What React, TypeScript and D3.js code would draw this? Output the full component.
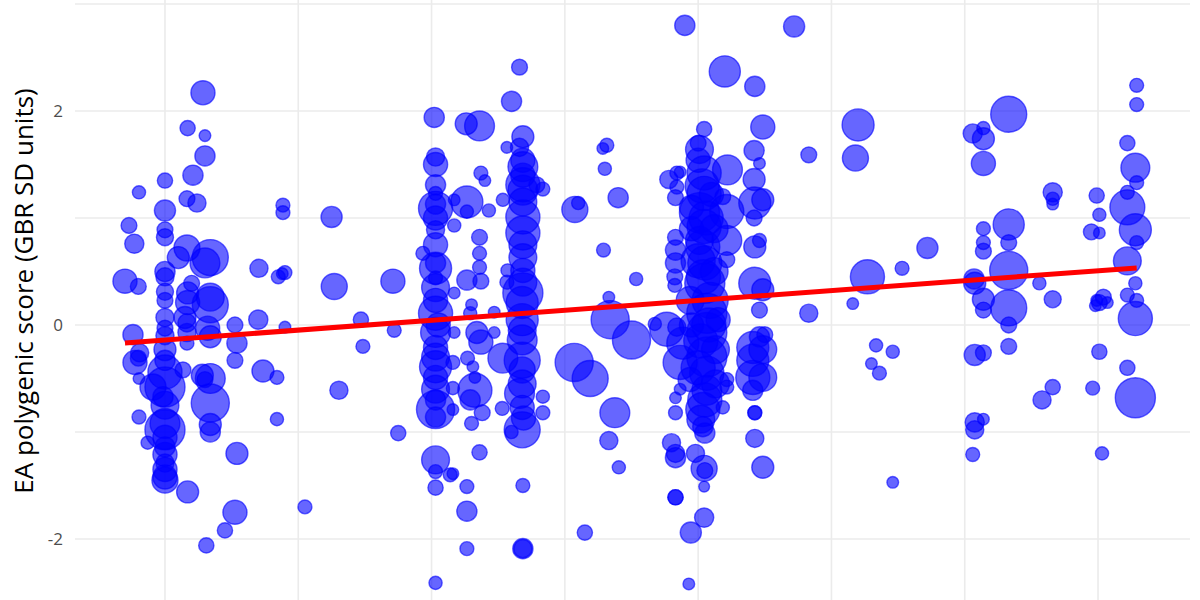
import * as d3 from 'd3'

// [x, score, n] — one array per cluster of samples
const groupLeft: [number, number, number][] = [
  [0.285, 2.17, 30], [0.17, 1.84, 12], [0.3, 1.77, 7], [0.3, 1.58, 21], [0.21, 1.4, 21],
  [0, 1.35, 12], [-0.195, 1.24, 9], [0.165, 1.18, 13], [0.24, 1.14, 17], [0, 1.07, 23],
  [0.885, 1.12, 10], [0.885, 1.05, 10], [-0.27, 0.93, 13], [-0.23, 0.76, 19], [0, 0.89, 13],
  [0, 0.82, 15], [0.165, 0.72, 35], [0.1, 0.63, 25], [0.34, 0.63, 67], [0.3, 0.58, 46],
  [0.705, 0.53, 17], [0.85, 0.45, 10], [0.9, 0.49, 10], [0.88, 0.48, 7], [0, 0.5, 21],
  [0, 0.45, 17], [-0.3, 0.41, 30], [-0.2, 0.36, 13], [0, 0.31, 15], [0.17, 0.3, 25],
  [0.2, 0.39, 13], [0.34, 0.26, 40], [0, 0.23, 13], [0.17, 0.21, 30], [0.34, 0.19, 67],
  [0, 0.07, 17], [0, -0.03, 13], [0.15, 0.07, 25], [0.165, 0.02, 17], [0.165, -0.17, 10],
  [0.165, -0.07, 17], [0.32, -0.03, 30], [0.34, -0.11, 25], [0.525, 0, 13], [0.7, 0.05, 19],
  [0.9, -0.02, 7], [0.54, -0.17, 21], [0.525, -0.33, 13], [-0.24, -0.09, 21], [-0.19, -0.26, 17],
  [-0.225, -0.35, 30], [-0.2, -0.31, 13], [0, -0.23, 25], [0, -0.33, 21], [0, -0.44, 60],
  [0, -0.58, 83], [-0.09, -0.58, 35], [-0.015, -0.67, 21], [0.135, -0.42, 13], [-0.195, -0.5, 7],
  [0.28, -0.47, 25], [0.34, -0.5, 46], [0.3, -0.51, 13], [0.34, -0.73, 75], [0.34, -0.93, 25],
  [0.34, -1.0, 21], [0.735, -0.43, 25], [0.84, -0.49, 10], [0.84, -0.88, 9], [-0.195, -0.86, 10],
  [0, -0.92, 46], [0, -0.98, 83], [-0.13, -1.1, 9], [0, -1.14, 21], [0, -1.21, 30],
  [0, -1.29, 17], [0, -1.42, 30], [0, -1.45, 35], [0.17, -1.56, 25], [0.54, -1.2, 25],
  [0.525, -1.75, 30], [0.45, -1.92, 12], [0.31, -2.06, 12], [1.05, -1.7, 10],
  [0, -0.75, 40], [0, -1.05, 30], [0, -1.35, 30], [0, -0.1, 17],
]

const groupMidLeft: [number, number, number][] = [
  [1.25, 1.01, 23], [1.27, 0.36, 35], [1.71, 0.41, 30], [1.47, 0.05, 12], [1.72, -0.05, 10],
  [1.485, -0.2, 10], [1.305, -0.61, 17], [1.75, -1.01, 12], [1.935, 0.67, 10],
]

const groupTwo: [number, number, number][] = [
  [2.02, 1.94, 21], [2.26, 1.88, 25], [2.36, 1.86, 46], [2.03, 1.57, 17], [2.03, 1.5, 30],
  [2.03, 1.31, 21], [2.03, 1.23, 10], [2.03, 1.09, 60], [2.03, 1.13, 21], [2.03, 0.89, 17],
  [2.17, 1.17, 7], [2.265, 1.15, 53], [2.265, 1.06, 9], [2.37, 1.42, 10], [2.4, 1.35, 7],
  [2.43, 1.07, 9], [2.535, 1.17, 9], [2.17, 0.93, 9], [2.36, 0.82, 13], [2.36, 0.67, 10],
  [2.36, 0.54, 10], [2.37, 0.41, 13], [2.265, 0.42, 21], [2.03, 0.53, 53], [2.03, 0.58, 21],
  [2.03, 0.44, 10], [2.17, 0.3, 7], [2.03, 0.23, 30], [2.03, 0.11, 60], [2.03, -0.07, 46],
  [2.03, -0.21, 30], [2.03, -0.39, 53], [2.03, -0.49, 30], [2.03, -0.79, 75], [2.03, -0.7, 21],
  [2.03, -0.86, 21], [2.17, -0.07, 7], [2.16, -0.35, 10], [2.16, -0.59, 9], [2.16, -0.79, 7],
  [2.3, 0.19, 7], [2.29, 0.11, 9], [2.34, -0.07, 25], [2.37, -0.16, 30], [2.47, 0.12, 7],
  [2.47, -0.07, 7], [2.27, -0.31, 10], [2.31, -0.39, 7], [2.325, -0.49, 7], [2.325, -0.61, 60],
  [2.29, -0.7, 21], [2.38, -0.82, 13], [2.3, -0.92, 10], [2.03, -1.26, 40], [2.03, -1.37, 10],
  [2.03, -1.52, 12], [2.14, -1.4, 10], [2.16, -1.39, 7], [2.36, -1.19, 12], [2.265, -1.51, 10],
  [2.265, -1.74, 21], [2.265, -2.09, 10], [2.03, -2.41, 9],
  [2.03, 1.0, 30], [2.03, 0.75, 30], [2.03, 0.35, 40], [2.03, -0.3, 40], [2.03, -0.6, 40],
  [2.05, 0.0, 30],
]

const groupThree: [number, number, number][] = [
  [2.66, 2.41, 13], [2.6, 2.09, 21], [2.685, 1.76, 25], [2.565, 1.66, 7], [2.66, 1.66, 17],
  [2.685, 1.54, 30], [2.685, 1.48, 46], [2.685, 1.31, 60], [2.685, 1.26, 46], [2.79, 1.31, 13],
  [2.835, 1.27, 10], [2.685, 1.01, 60], [2.685, 0.86, 60], [2.685, 0.63, 40], [2.685, 0.51, 30],
  [2.57, 0.51, 9], [2.685, 0.3, 83], [2.565, 0.4, 10], [2.68, 0.21, 53], [2.68, 0.05, 53],
  [2.68, -0.14, 46], [2.68, -0.33, 67], [2.68, -0.42, 35], [2.535, -0.31, 46], [2.53, -0.78, 10],
  [2.66, -0.64, 46], [2.68, -0.77, 30], [2.68, -0.98, 67], [2.6, -1.0, 9], [2.685, -1.5, 10],
  [2.685, -2.09, 21], [2.685, -2.09, 17], [2.835, -0.67, 9], [2.835, -0.82, 10],
  [2.685, 1.15, 40], [2.685, 0.75, 40], [2.685, 0.4, 40], [2.68, -0.05, 40], [2.68, -0.55, 40],
  [2.69, -0.87, 30], [2.685, 1.4, 30],
]

const groupMid: [number, number, number][] = [
  [3.075, 1.08, 35], [3.1, 1.14, 9], [3.285, 1.65, 7], [3.315, 1.68, 10], [3.3, 1.46, 9],
  [3.4, 1.19, 21], [3.29, 0.7, 10], [3.535, 0.43, 9], [3.33, 0.26, 7], [3.34, 0.05, 75],
  [3.5, -0.14, 75], [3.07, -0.35, 75], [3.19, -0.5, 67], [3.375, -0.82, 46], [3.33, -1.08, 17],
  [3.405, -1.33, 9], [3.15, -1.94, 12],
]

const groupFour: [number, number, number][] = [
  [3.9, 2.8, 21], [4.2, 2.37, 50], [4.425, 2.23, 21], [4.485, 1.85, 30], [4.045, 1.83, 12],
  [4.0, 1.7, 13], [4.42, 1.63, 21], [4.46, 1.51, 7], [3.78, 1.36, 17], [3.84, 1.42, 10],
  [3.865, 1.43, 7], [3.84, 1.29, 10], [3.83, 1.19, 13], [4.045, 1.42, 60], [4.045, 1.23, 60],
  [4.22, 1.45, 46], [4.01, 1.05, 83], [4.215, 1.06, 60], [4.045, 0.92, 60], [4.185, 1.2, 13],
  [4.42, 1.36, 25], [4.425, 1.14, 53], [4.485, 1.17, 25], [4.42, 1.0, 13], [3.83, 0.82, 13],
  [3.83, 0.7, 21], [3.83, 0.58, 21], [3.825, 0.45, 13], [3.825, 0.37, 10], [4.035, 0.73, 60],
  [4.215, 0.79, 46], [4.05, 0.58, 60], [4.05, 0.39, 83], [4.215, 0.61, 13], [4.425, 0.73, 25],
  [4.46, 0.79, 10], [4.425, 0.39, 53], [4.485, 0.33, 25], [3.765, -0.04, 60], [3.675, 0.01, 9],
  [3.84, -0.02, 17], [3.885, -0.17, 53], [3.865, -0.35, 60], [3.865, -0.6, 7], [3.83, -0.68, 7],
  [3.83, -0.82, 10], [4.065, 0.11, 83], [4.065, -0.07, 83], [4.065, -0.3, 83], [4.065, -0.45, 60],
  [4.065, -0.61, 46], [4.035, -0.79, 60], [4.035, -0.95, 21], [4.05, -1.01, 21], [4.215, -0.58, 10],
  [4.185, -0.77, 9], [4.215, -0.51, 10], [3.8, -1.1, 17], [3.83, -1.2, 17], [3.83, -1.24, 21],
  [3.98, -1.2, 17], [4.045, -1.34, 35], [4.05, -1.36, 13], [4.045, -1.51, 6], [3.83, -1.61, 12],
  [3.83, -1.61, 12], [4.045, -1.8, 19], [3.945, -1.94, 23], [3.93, -2.42, 7], [4.41, -0.21, 53],
  [4.41, -0.33, 53], [4.41, -0.49, 60], [4.41, -0.61, 21], [4.425, -0.82, 10], [4.425, -0.82, 10],
  [4.425, -1.06, 17], [4.485, -1.33, 25], [4.46, -0.11, 21], [4.5, -0.09, 13], [4.485, -0.23, 40],
  [4.485, -0.49, 40], [4.46, 0.14, 13], [4.01, 1.64, 40], [4.0, 1.54, 30], [4.09, 0.23, 67],
  [4.01, 0.79, 40], [4.1, 1.22, 30], [3.94, 0.23, 40], [4.13, -0.23, 40], [3.94, -0.51, 30],
  [4.15, 0.05, 30],
  [4.03, 1.3, 60], [4.06, 1.0, 60], [4.0, 0.6, 60], [4.04, 0.45, 60], [4.08, 0.0, 60],
  [4.02, -0.15, 60], [4.0, -0.4, 60], [4.05, -0.7, 60], [4.02, -0.88, 40], [3.95, 1.1, 30],
  [3.95, 0.9, 30], [3.95, 0.0, 30], [4.12, 0.5, 40], [4.12, 0.9, 40], [4.13, -0.55, 40],
]

const groupFive: [number, number, number][] = [
  [4.72, 2.79, 23], [4.83, 1.59, 13], [5.2, 1.87, 53], [5.18, 1.56, 35], [5.72, 0.72, 23],
  [5.53, 0.53, 10], [5.27, 0.45, 60], [5.16, 0.2, 7], [4.83, 0.11, 17], [5.335, -0.19, 9],
  [5.46, -0.25, 9], [5.3, -0.36, 7], [5.36, -0.45, 10], [5.46, -1.47, 7],
]

const groupSix: [number, number, number][] = [
  [6.33, 1.97, 67], [6.06, 1.79, 19], [6.14, 1.84, 9], [6.14, 1.74, 25], [6.14, 1.51, 30],
  [6.66, 1.24, 19], [6.66, 1.18, 9], [6.66, 1.13, 7], [6.33, 0.94, 50], [6.33, 0.77, 13],
  [6.33, 0.51, 75], [6.14, 0.9, 10], [6.14, 0.77, 10], [6.14, 0.69, 13], [6.07, 0.43, 21],
  [6.075, 0.39, 25], [6.14, 0.24, 25], [6.14, 0.14, 13], [6.33, 0.16, 67], [6.56, 0.39, 9],
  [6.66, 0.24, 15], [6.33, 0, 13], [6.33, -0.2, 13], [6.075, -0.28, 23], [6.14, -0.26, 13],
  [6.075, -0.91, 19], [6.075, -0.98, 17], [6.14, -0.88, 7], [6.06, -1.21, 10], [6.66, -0.58, 12],
  [6.58, -0.7, 17],
]

const groupRight: [number, number, number][] = [
  [7.29, 2.24, 10], [7.29, 2.06, 10], [7.22, 1.7, 12], [7.28, 1.47, 43], [7.29, 1.33, 10],
  [7.22, 1.24, 10], [7.22, 1.1, 63], [7.28, 0.89, 53], [7.29, 0.77, 10], [7.22, 0.6, 40],
  [7.28, 0.39, 9], [7.22, 0.28, 10], [7.29, 0.23, 10], [6.99, 1.21, 12], [7.01, 1.03, 9],
  [6.95, 0.87, 13], [7.01, 0.86, 7], [7.04, 0.26, 13], [6.99, 0.23, 7], [6.98, 0.18, 7],
  [7.01, 0.21, 13], [7.07, 0.21, 7], [7.28, 0.06, 60], [7.01, -0.25, 12], [7.22, -0.4, 12],
  [6.96, -0.59, 10], [7.28, -0.68, 83], [7.03, -1.2, 9],
]

const allPoints = [
  ...groupLeft, ...groupMidLeft, ...groupTwo, ...groupThree, ...groupMid,
  ...groupFour, ...groupFive, ...groupSix, ...groupRight,
]

// linear fit (lm) coefficients
const fitIntercept = -0.14
const fitSlope = 0.0924

const xGrid = [0, 1, 2, 3, 4, 5, 6, 7]
const yGrid = [-3, -2, -1, 0, 1, 2, 3]
const yTicks = [-2, 0, 2]

const yTitle = 'EA polygenic score (GBR SD units)'

export default function App() {
  const width = 1200
  const height = 600
  const panel = { left: 75, right: 1190, top: 0, bottom: 620 }

  const x = d3.scaleLinear().domain([-0.675, 7.69]).range([panel.left, panel.right])
  const y = d3.scaleLinear().domain([-2, 2]).range([539, 111])
  const r = d3.scaleSqrt().domain([0, 100]).range([0, 22])

  const xExtent = d3.extent(allPoints, (d) => d[0]) as [number, number]
  const fitLine = d3
    .line<number>()
    .x((d) => x(d))
    .y((d) => y(fitIntercept + fitSlope * d))

  return (
    <svg
      width={width}
      height={height}
      style={{ position: 'absolute', left: 0, top: 0, background: '#fff' }}
      fontFamily="'Open Sans', 'Noto Sans', sans-serif"
    >
      <g>
        {xGrid.map((v) => (
          <line key={'gx' + v} x1={x(v)} x2={x(v)} y1={panel.top} y2={panel.bottom} stroke="#ebebeb" strokeWidth={1.6} />
        ))}
        {yGrid.map((v) => (
          <line key={'gy' + v} x1={panel.left} x2={panel.right} y1={y(v)} y2={y(v)} stroke="#ebebeb" strokeWidth={1.6} />
        ))}
      </g>
      <g>
        {yTicks.map((v) => (
          <text key={'t' + v} x={63} y={y(v)} dy="0.35em" textAnchor="end" fontSize={17} fill="#4d4d4d">
            {v}
          </text>
        ))}
      </g>
      <text
        transform={`translate(33, 291) rotate(-90)`}
        textAnchor="middle"
        fontSize={26}
        fill="#000"
      >
        {yTitle}
      </text>
      <g>
        {allPoints.map((d, i) => (
          <circle
            key={i}
            cx={x(d[0])}
            cy={y(d[1])}
            r={r(d[2])}
            fill="#0000ff"
            fillOpacity={0.6}
            stroke="#0000ff"
            strokeOpacity={0.6}
            strokeWidth={1.4}
          />
        ))}
      </g>
      <path d={fitLine(xExtent) ?? ''} fill="none" stroke="#ff0000" strokeWidth={5} />
    </svg>
  )
}
